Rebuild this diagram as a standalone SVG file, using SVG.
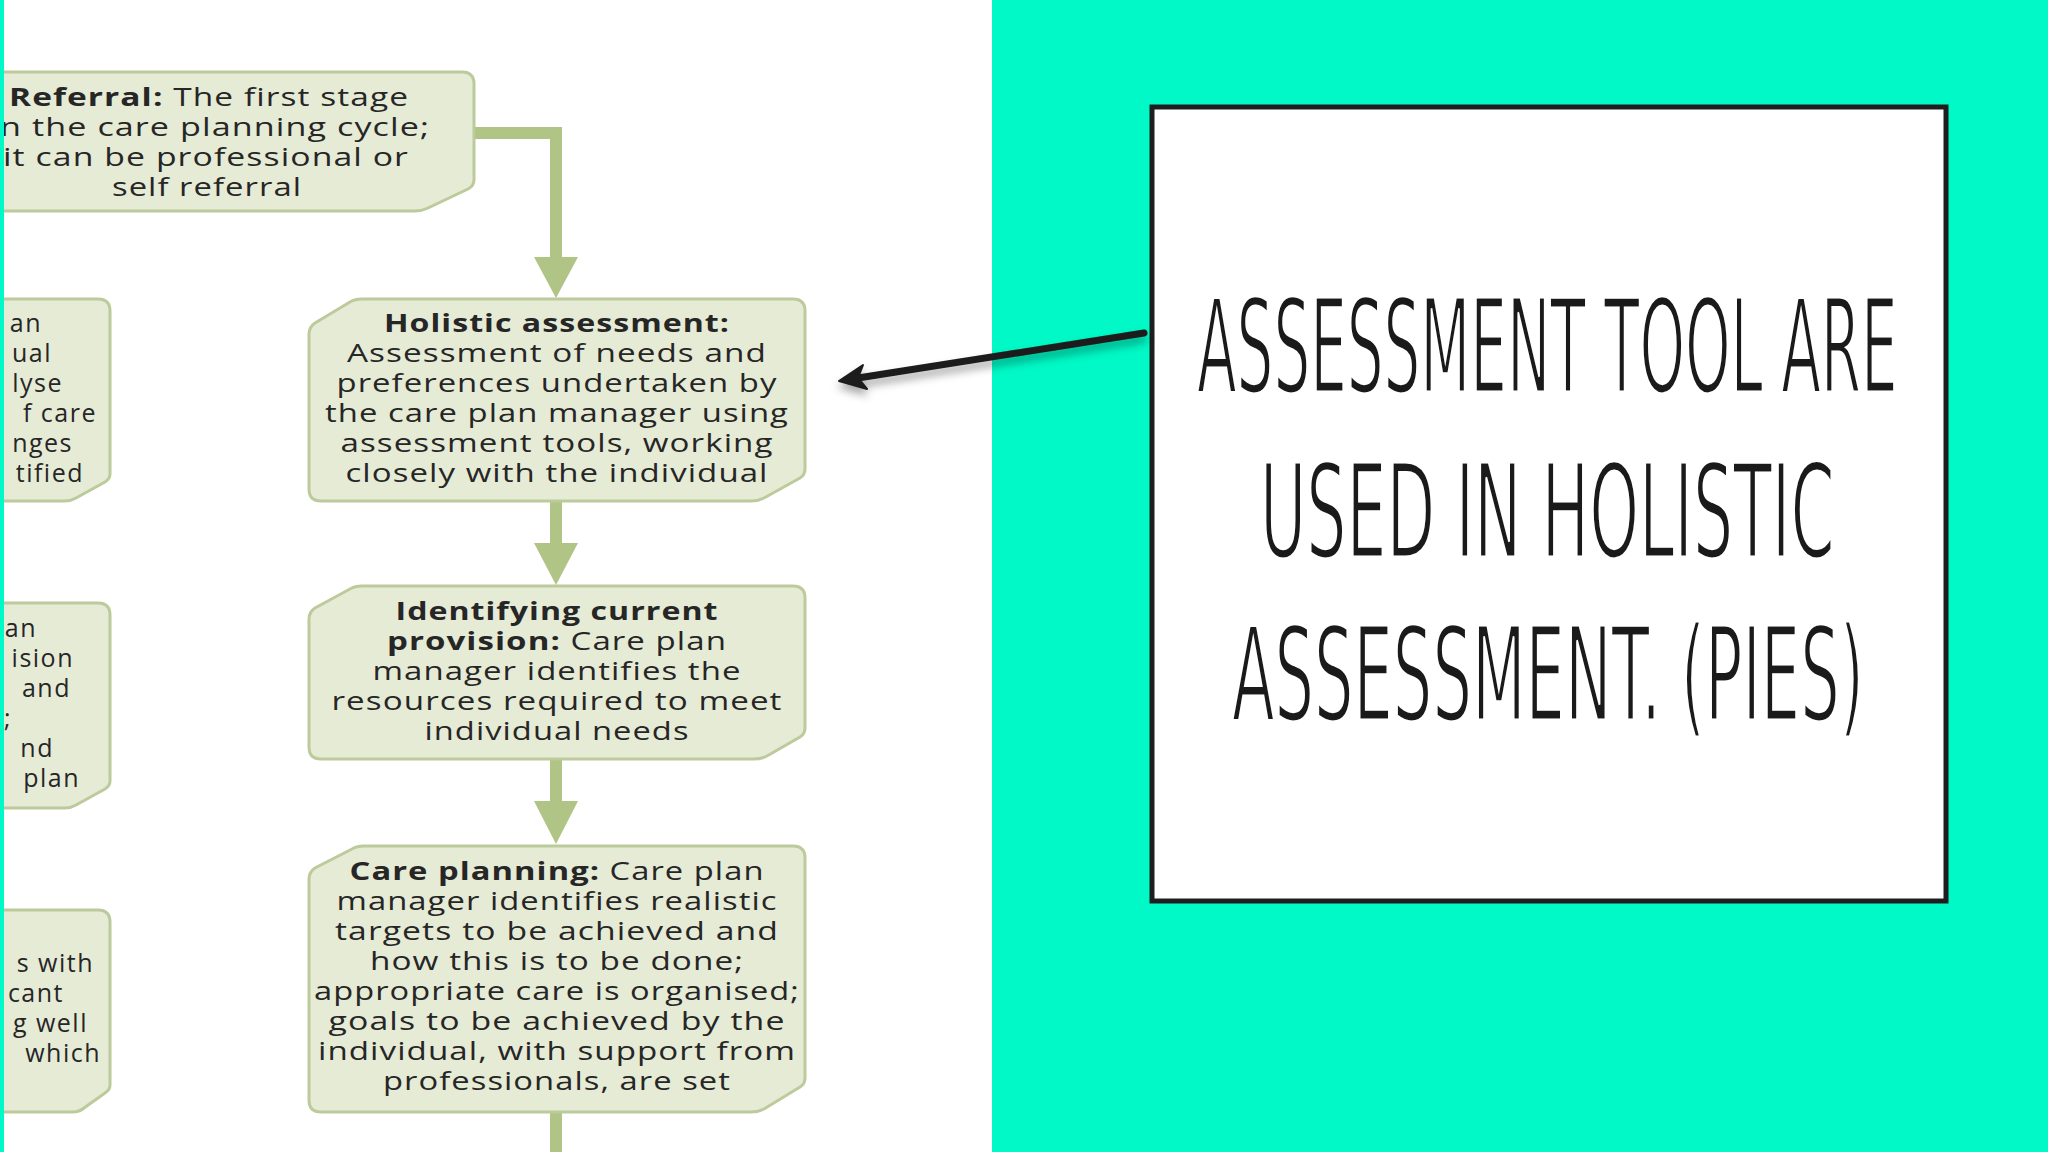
<svg xmlns="http://www.w3.org/2000/svg" width="2048" height="1152" viewBox="0 0 2048 1152">
  <style>
    .box { fill: #E6EBD6; stroke: #BCCA9C; stroke-width: 3; }
    .t { font-family: "Open Sans", "Liberation Sans", sans-serif; font-size: 25px; fill: #262626; letter-spacing: 0.8px; text-anchor: middle; }
    .frag { font-family: "Open Sans", "Liberation Sans", sans-serif; font-size: 25px; fill: #262626; letter-spacing: 1.5px; text-anchor: end; }
    .b { font-weight: 700; }
    .conn { fill: none; stroke: #AFC485; stroke-width: 12; }
    .head { fill: #AFC485; }
    .big { font-family: "Liberation Sans Narrow", "DejaVu Sans Condensed", "Liberation Sans", sans-serif; font-size: 130px; fill: #1A1A1A; stroke: #FFFFFF; stroke-width: 3.2px; paint-order: fill; }
  </style>
  <defs>
    <filter id="shadow" x="-10%" y="-50%" width="120%" height="200%">
      <feDropShadow dx="0" dy="6" stdDeviation="4" flood-color="#000" flood-opacity="0.35"/>
    </filter>
  </defs>

  <rect x="0" y="0" width="2048" height="1152" fill="#FFFFFF"/>
  <rect x="992" y="0" width="1056" height="1152" fill="#00F9C6"/>

  <!-- connectors -->
  <g id="connectors">
    <path class="conn" d="M 474 133 H 556 V 260"/>
    <polygon class="head" points="534,257 578,257 556,298"/>
    <path class="conn" d="M 556 501 V 546"/>
    <polygon class="head" points="534,543 578,543 556,585"/>
    <path class="conn" d="M 556 759 V 804"/>
    <polygon class="head" points="534,801 578,801 556,844"/>
    <path class="conn" d="M 556 1112 V 1152"/>
  </g>

  <!-- Referral -->
  <g id="node-referral">
    <path class="box" d="M -20 72 L 462 72 Q 474 72 474 84 L 474 180 Q 474 186 468 189 L 428 208 Q 422 211 415 211 L -20 211 Z"/>
    <text class="t" x="209" y="106" textLength="400" lengthAdjust="spacingAndGlyphs"><tspan class="b">Referral:</tspan> The first stage</text>
    <text class="t" x="430" y="136" style="text-anchor:end" textLength="430" lengthAdjust="spacingAndGlyphs">n the care planning cycle;</text>
    <text class="t" x="206" y="166" textLength="406" lengthAdjust="spacingAndGlyphs">it can be professional or</text>
    <text class="t" x="207" y="196" textLength="190" lengthAdjust="spacingAndGlyphs">self referral</text>
  </g>

  <!-- Left partial boxes -->
  <g id="node-left-a">
    <path class="box" d="M -20 299 L 98 299 Q 110 299 110 311 L 110 474 Q 110 479 105 482 L 76 498 Q 71 501 65 501 L -20 501 Z"/>
    <text class="frag" x="42" y="332">an</text>
    <text class="frag" x="52" y="362">ual</text>
    <text class="frag" x="63" y="392">lyse</text>
    <text class="frag" x="97" y="422">f care</text>
    <text class="frag" x="73" y="452">nges</text>
    <text class="frag" x="84" y="482">tified</text>
  </g>
  <g id="node-left-b">
    <path class="box" d="M -20 603 L 98 603 Q 110 603 110 615 L 110 781 Q 110 786 105 789 L 76 805 Q 71 808 65 808 L -20 808 Z"/>
    <text class="frag" x="37" y="637">an</text>
    <text class="frag" x="74" y="667">ision</text>
    <text class="frag" x="71" y="697">and</text>
    <text class="frag" x="12" y="727">;</text>
    <text class="frag" x="54" y="757">nd</text>
    <text class="frag" x="80" y="787">plan</text>
  </g>
  <g id="node-left-c">
    <path class="box" d="M -20 910 L 98 910 Q 110 910 110 922 L 110 1085 Q 110 1090 105 1093 L 84 1108 Q 79 1112 73 1112 L -20 1112 Z"/>
    <text class="frag" x="94" y="972">s with</text>
    <text class="frag" x="64" y="1002">cant</text>
    <text class="frag" x="88" y="1032">g well</text>
    <text class="frag" x="101" y="1062">which</text>
  </g>

  <!-- Holistic assessment -->
  <g id="node-holistic">
    <path class="box" d="M 309 334 Q 309 327 315 323 L 350 302 Q 355 299 362 299 L 793 299 Q 805 299 805 311 L 805 469 Q 805 475 800 478 L 764 498 Q 758 501 751 501 L 321 501 Q 309 501 309 489 Z"/>
    <text class="t b" x="557" y="332" textLength="346" lengthAdjust="spacingAndGlyphs">Holistic assessment:</text>
    <text class="t" x="557" y="362" textLength="420" lengthAdjust="spacingAndGlyphs">Assessment of needs and</text>
    <text class="t" x="557" y="392" textLength="441" lengthAdjust="spacingAndGlyphs">preferences undertaken by</text>
    <text class="t" x="557" y="422" textLength="464" lengthAdjust="spacingAndGlyphs">the care plan manager using</text>
    <text class="t" x="557" y="452" textLength="433" lengthAdjust="spacingAndGlyphs">assessment tools, working</text>
    <text class="t" x="557" y="482" textLength="423" lengthAdjust="spacingAndGlyphs">closely with the individual</text>
  </g>

  <!-- Identifying current provision -->
  <g id="node-identifying">
    <path class="box" d="M 309 619 Q 309 612 315 608 L 350 589 Q 355 586 362 586 L 793 586 Q 805 586 805 598 L 805 728 Q 805 734 800 737 L 767 756 Q 761 759 754 759 L 321 759 Q 309 759 309 747 Z"/>
    <text class="t b" x="557" y="620" textLength="323" lengthAdjust="spacingAndGlyphs">Identifying current</text>
    <text class="t" x="557" y="650" textLength="340" lengthAdjust="spacingAndGlyphs"><tspan class="b">provision:</tspan> Care plan</text>
    <text class="t" x="557" y="680" textLength="369" lengthAdjust="spacingAndGlyphs">manager identifies the</text>
    <text class="t" x="557" y="710" textLength="451" lengthAdjust="spacingAndGlyphs">resources required to meet</text>
    <text class="t" x="557" y="740" textLength="265" lengthAdjust="spacingAndGlyphs">individual needs</text>
  </g>

  <!-- Care planning -->
  <g id="node-careplanning">
    <path class="box" d="M 309 879 Q 309 872 315 868 L 352 849 Q 357 846 364 846 L 793 846 Q 805 846 805 858 L 805 1078 Q 805 1084 800 1087 L 764 1109 Q 758 1112 751 1112 L 321 1112 Q 309 1112 309 1100 Z"/>
    <text class="t" x="557" y="880" textLength="415" lengthAdjust="spacingAndGlyphs"><tspan class="b">Care planning:</tspan> Care plan</text>
    <text class="t" x="557" y="910" textLength="441" lengthAdjust="spacingAndGlyphs">manager identifies realistic</text>
    <text class="t" x="557" y="940" textLength="444" lengthAdjust="spacingAndGlyphs">targets to be achieved and</text>
    <text class="t" x="557" y="970" textLength="374" lengthAdjust="spacingAndGlyphs">how this is to be done;</text>
    <text class="t" x="557" y="1000" textLength="486" lengthAdjust="spacingAndGlyphs">appropriate care is organised;</text>
    <text class="t" x="557" y="1030" textLength="457" lengthAdjust="spacingAndGlyphs">goals to be achieved by the</text>
    <text class="t" x="557" y="1060" textLength="478" lengthAdjust="spacingAndGlyphs">individual, with support from</text>
    <text class="t" x="557" y="1090" textLength="348" lengthAdjust="spacingAndGlyphs">professionals, are set</text>
  </g>

  <rect x="0" y="0" width="4" height="1152" fill="#00F9C6"/>

  <!-- Note box -->
  <g id="node-note">
    <rect x="1152" y="107" width="794" height="794" fill="#FFFFFF" stroke="#1E1E1E" stroke-width="5"/>
    <text class="big" transform="translate(1197 392) scale(0.55 1)" x="0" y="0" textLength="1274" lengthAdjust="spacingAndGlyphs">ASSESSMENT TOOL ARE</text>
    <text class="big" transform="translate(1260 557) scale(0.55 1)" x="0" y="0" textLength="1045" lengthAdjust="spacingAndGlyphs">USED IN HOLISTIC</text>
    <text class="big" transform="translate(1232 720) scale(0.55 1)" x="0" y="0" textLength="1149" lengthAdjust="spacingAndGlyphs">ASSESSMENT. (PIES)</text>
  </g>

  <!-- pointer arrow -->
  <g id="pointer" filter="url(#shadow)">
    <line x1="1144" y1="333" x2="858" y2="378" stroke="#1C1C1C" stroke-width="7" stroke-linecap="round"/>
    <polygon points="839,381 863,365 858,378 867,389" fill="#1C1C1C" stroke="#1C1C1C" stroke-width="2" stroke-linejoin="round"/>
  </g>
</svg>
